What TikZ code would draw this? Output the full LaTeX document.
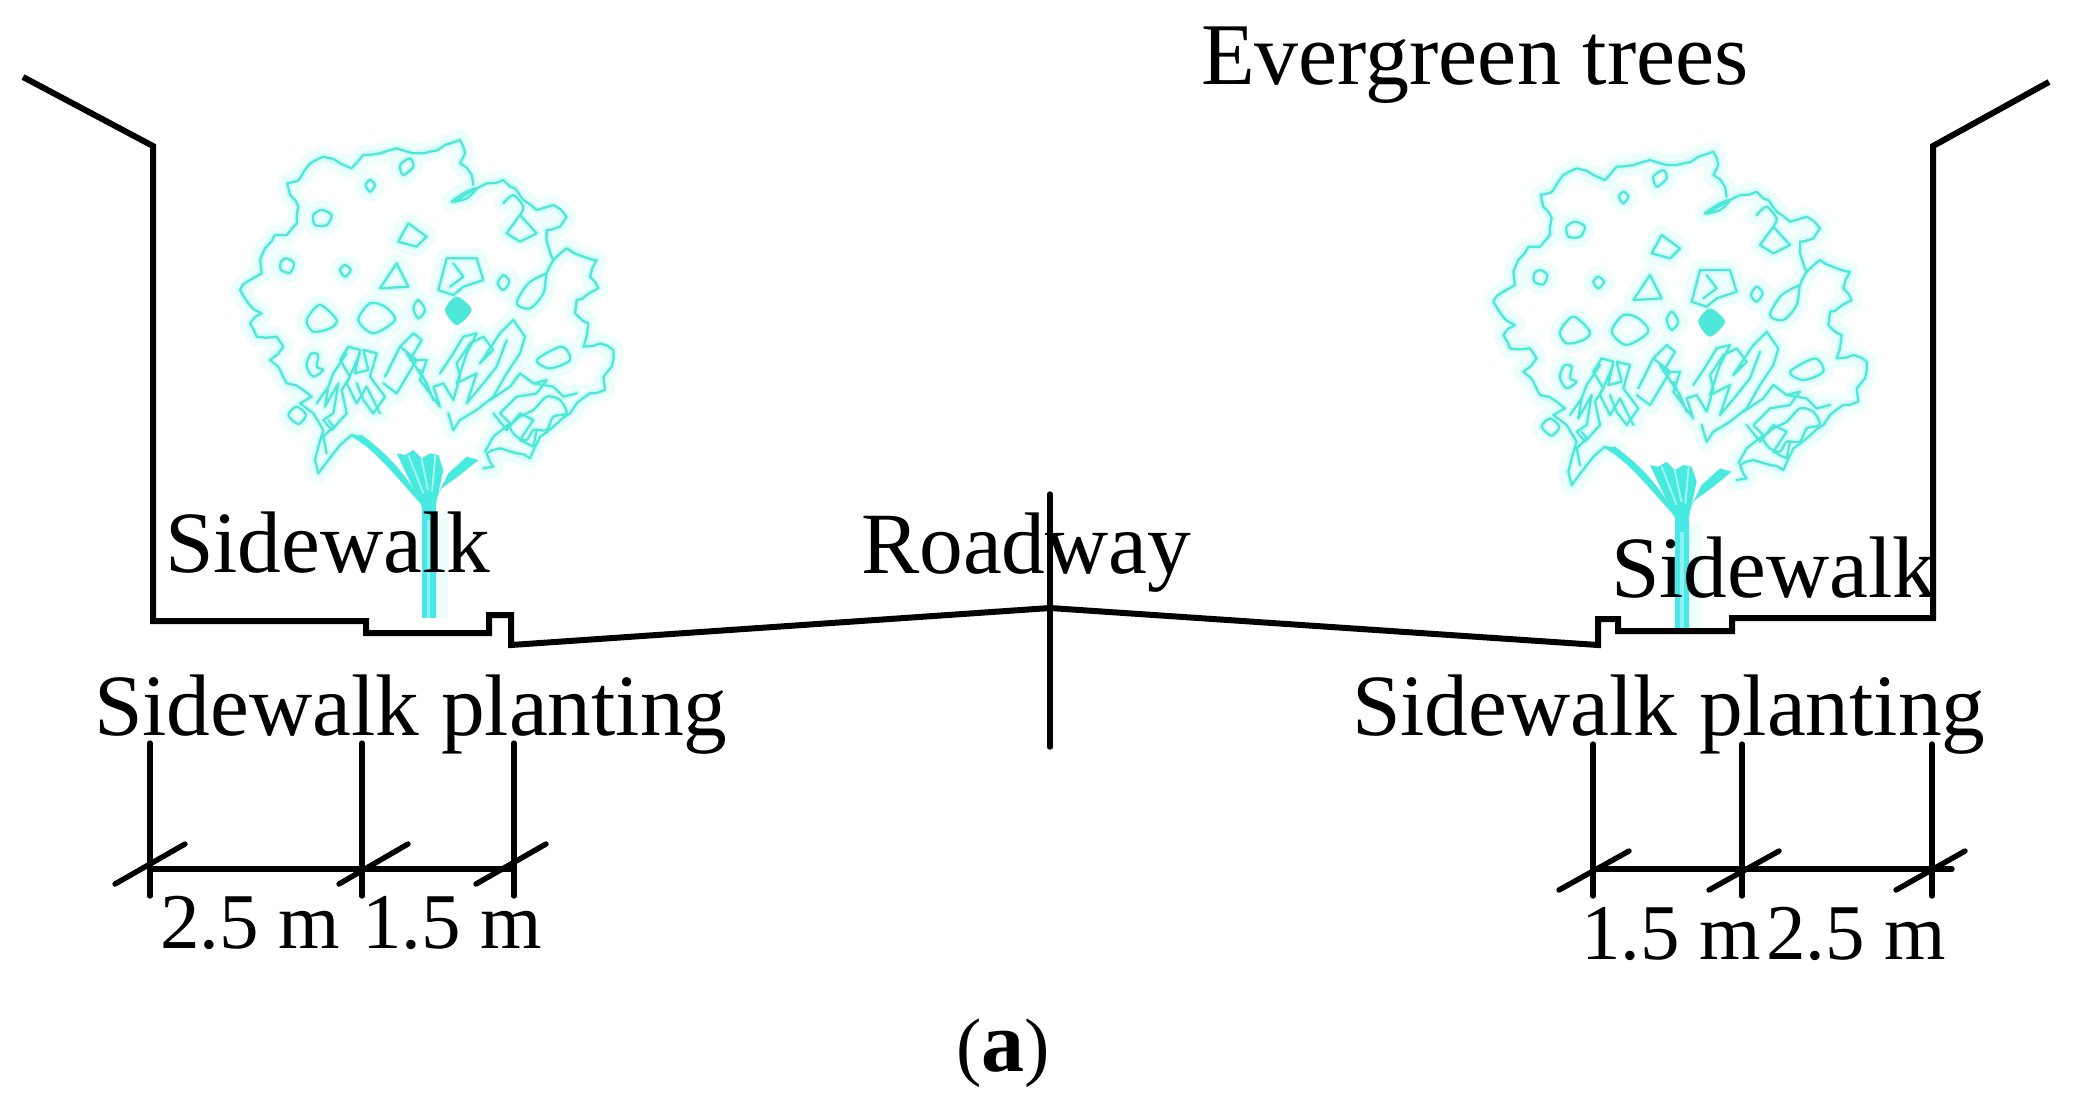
\documentclass[tikz,border=0pt]{standalone}
\usepackage{fontspec}
\usetikzlibrary{decorations.pathmorphing}
\setmainfont{Liberation Serif}
\definecolor{treecol}{RGB}{78,232,218}
\definecolor{trunkcol}{RGB}{70,232,232}
\definecolor{glowcol}{RGB}{238,254,252}
\definecolor{glowtwo}{RGB}{214,250,246}
\newcommand{\outlineA}{(262,190)--(300,175)--(330,130)--(370,110)--(420,130)--(455,145)--(490,105)--(540,100)--(590,85)--(640,100)--(690,95)--(735,75)--(780,60)--(795,100)--(780,130)--(815,165)--(820,195)}
\newcommand{\outlineB}{(765,245)--(795,225)--(830,205)--(860,190)--(910,180)--(945,205)--(970,240)--(1010,270)--(1060,255)--(1100,290)--(1080,320)--(1040,330)--(1045,380)--(1060,420)--(1100,385)--(1150,410)--(1190,420)--(1170,470)--(1195,505)--(1130,540)--(1125,580)--(1165,610)--(1160,650)--(1150,680)--(1200,670)--(1240,690)--(1235,740)--(1210,770)--(1215,810)--(1170,820)--(1130,850)--(1110,880)--(1060,920)--(1020,950)--(990,1015)--(950,1000)--(900,985)--(860,1000)--(880,1040)--(850,1045)}
\newcommand{\outlineC}{(262,190)--(270,225)--(295,260)--(290,310)--(260,345)--(225,345)--(195,385)--(180,420)--(185,460)--(150,480)--(120,510)--(145,550)--(185,580)--(150,610)--(170,650)--(230,650)--(250,680)--(210,720)--(240,750)--(260,790)--(310,810)--(335,830)--(300,850)}
\newcommand{\crownpaths}{
 plot[smooth cycle] coordinates {(365,270)(395,285)(380,315)(345,315)(340,285)}
 plot[smooth cycle] coordinates {(510,180)(525,195)(510,215)(497,195)}
 plot[smooth cycle] coordinates {(630,115)(640,140)(610,165)(600,135)}
 plot coordinates {(625,310)(595,365)(650,380)(680,350)(625,310)}
 plot[smooth cycle] coordinates {(260,415)(282,430)(270,458)(243,450)(243,425)}
 plot[smooth cycle] coordinates {(435,435)(452,450)(435,470)(420,450)}
 plot coordinates {(590,430)(540,505)(625,500)(590,430)}
 plot[smooth cycle] coordinates {(360,555)(320,600)(340,635)(390,625)(410,600)}
 plot[smooth cycle] coordinates {(510,550)(475,600)(520,640)(585,600)(555,560)}
 plot[smooth cycle] coordinates {(655,540)(675,570)(655,595)(640,565)}
 plot coordinates {(740,415)(830,415)(850,480)(790,500)(760,525)(715,510)(740,415)}
 plot coordinates {(760,430)(790,470)(750,500)}
 plot[smooth cycle] coordinates {(910,465)(928,485)(910,510)(893,490)}
 plot[smooth] coordinates {(1060,420)(1040,460)(1030,520)(990,565)(950,550)(985,490)(1040,460)}
 plot coordinates {(960,285)(920,340)(960,365)(1010,340)(960,285)}
 plot[smooth] coordinates {(910,250)(940,225)(970,260)(960,285)}
 plot[smooth cycle] coordinates {(1085,680)(1010,720)(1050,745)(1110,720)}
 plot[smooth cycle] coordinates {(755,245)(800,215)(830,205)(800,235)}
 plot[smooth cycle] coordinates {(335,700)(355,705)(350,740)(370,750)(340,770)(320,740)(325,715)}
 plot[smooth cycle] coordinates {(290,860)(318,885)(295,912)(265,885)}
 plot coordinates {(350,850)(385,800)(375,860)(415,790)(400,880)(370,900)(395,930)(440,880)(425,810)(450,770)(420,720)(445,680)(480,690)(465,760)(505,750)(490,690)(530,700)(510,770)(555,830)(520,880)(490,840)(470,790)}
 plot coordinates {(440,700)(400,760)(385,800)}
 plot coordinates {(480,700)(440,790)(470,850)(500,800)(540,880)}
 plot coordinates {(600,680)(640,640)(665,660)(630,720)(680,720)(660,780)(720,860)(700,800)(730,790)(760,840)(780,770)(770,730)(810,670)(850,650)(880,690)(840,730)(900,640)(940,600)(975,650)(960,700)(920,760)(880,830)(830,870)(780,900)(760,930)(745,880)}
 plot coordinates {(550,790)(590,820)(620,770)(650,720)(600,680)(555,770)}
 plot coordinates {(620,700)(680,790)(700,840)(660,750)}
 plot coordinates {(800,700)(770,790)(830,760)(800,850)(850,790)(890,740)(920,660)}
 plot coordinates {(720,760)(760,700)(790,650)(830,640)(800,700)}
 plot coordinates {(870,840)(930,800)(960,760)(1000,790)(1040,780)(1010,820)(950,830)(900,880)(930,910)(880,950)(855,995)}
 plot coordinates {(880,880)(920,930)(960,880)(1000,900)(960,960)(1000,980)(1010,930)}
 plot coordinates {(1000,790)(1060,800)(1090,830)(1130,820)}
 plot[smooth cycle] coordinates {(1000,870)(1040,830)(1080,840)(1100,880)(1060,890)(1040,930)(1000,930)(980,960)(950,950)(930,920)(960,890)}
 plot coordinates {(300,850)(340,880)(370,930)(355,980)(345,1020)(355,1060)(385,1020)(420,975)(455,945)(490,955)}
 plot coordinates {(380,1000)(370,950)(400,920)(385,900)}
}
\newcommand{\drawtree}[2]{%
 \begin{scope}[shift={(#1,#2)},x=0.1666667pt,y=-0.1666667pt]
  \path[draw=glowcol,line width=10pt,line join=round,line cap=round] \outlineA \outlineB \outlineC \crownpaths;
  \path[draw=glowtwo,line width=3.4pt,line join=round,line cap=round] \outlineA \outlineB \outlineC \crownpaths;
  \fill[glowcol] (707,1180) rectangle (745,1495);
  \pgfmathsetseed{4711}
  \draw[crownline,bumpy] \outlineA;
  \draw[crownline,bumpy] \outlineB;
  \draw[crownline,bumpy] \outlineC;
  \path[crownline] \crownpaths;
  \fill[treecol] plot[smooth cycle] coordinates {(770,530)(815,570)(770,615)(735,570)};
  \fill[treecol!90!cyan] (670,1160) .. controls (620,1060) and (560,1000) .. (485,945) -- (455,950) .. controls (520,985) and (580,1060) .. (670,1160) -- cycle;
  \fill[treecol!90!cyan] (668,1165) -- (590,1000) -- (615,1005) -- (640,990) -- (665,1015) -- (690,1000) -- (715,1005) -- (730,1050) -- (705,1165) -- cycle;
  \fill[treecol!90!cyan] (700,1150) -- (745,1060) -- (800,1010) -- (835,1020) -- (780,1065) -- (725,1105) -- cycle;
  \draw[white,opacity=.55,line width=.9pt] (670,1120) -- (625,1005);
  \draw[white,opacity=.55,line width=.9pt] (684,1110) -- (664,1015);
  \draw[white,opacity=.55,line width=.9pt] (696,1115) -- (706,1005);
  \fill[trunkcol] (665,1150) rectangle (707,1495);
  \fill[trunkcol!60!white] (681,1200) rectangle (691,1495);
 \end{scope}}
\tikzset{
 x=0.5pt,y=-0.5pt,
 crownline/.style={draw=treecol,line width=1.15pt,line join=round,line cap=round},
 bumpy/.style={decorate,decoration={random steps,segment length=4.5pt,amplitude=.9pt}},
 road/.style={draw=black,line width=3pt,line join=miter},
 dimline/.style={draw=black,line width=2.7pt,line cap=round},
 label/.style={inner sep=0pt,outer sep=0pt,anchor=base west,font=\fontsize{43.7pt}{50pt}\selectfont},
 dimlabel/.style={inner sep=0pt,outer sep=0pt,anchor=base west,font=\fontsize{39.5pt}{46pt}\selectfont},
}
\begin{document}
\begin{tikzpicture}
\useasboundingbox (0,0) rectangle (2082,1104);
\fill[white] (0,0) rectangle (2082,1104);
\drawtree{200}{120}
\drawtree{1453.3}{131.7}
% ground profile
\draw[road] (23,77) -- (153,146) -- (153,621) -- (366,621) -- (366,633) -- (489,633) -- (489,615) -- (511,615) -- (511,645) -- (1050,608) -- (1598,645) -- (1598,619) -- (1618,619) -- (1618,631) -- (1732,631) -- (1732,618) -- (1933,618) -- (1933,146) -- (2049,82);
\draw[dimline] (1050,494) -- (1050,747);
% left dimensions
\coordinate (la) at (150,869); \coordinate (lc) at (514,869);
\draw[dimline] (150,743) -- (150,896);
\draw[dimline] (362,743) -- (362,896);
\draw[dimline] (514,743) -- (514,896);
\draw[dimline] (la) -- (lc);
\draw[dimline] (115,884) -- (185,844);
\draw[dimline] (339,884) -- (408,844);
\draw[dimline] (476,884) -- (546,844);
% right dimensions
\coordinate (ra) at (1593,869); \coordinate (rc) at (1952,869);
\draw[dimline] (1593,744) -- (1593,896);
\draw[dimline] (1742,744) -- (1742,896);
\draw[dimline] (1932,744) -- (1932,896);
\draw[dimline] (ra) -- (rc);
\draw[dimline] (1559,890) -- (1629,851);
\draw[dimline] (1709,890) -- (1779,851);
\draw[dimline] (1896,890) -- (1965,851);
% labels
\node[label,font=\fontsize{44pt}{50pt}\selectfont] (ever) at (1201,84) {Evergreen trees};
\node[label] (swl) at (165,572) {Sidewalk};
\node[label] (road) at (861,573) {Roadway};
\node[label] (swr) at (1611,597) {Sidewalk};
\node[label] (spl) at (94,735) {Sidewalk planting};
\node[label] (spr) at (1352,735) {Sidewalk planting};
\node[dimlabel] (d1) at (160,948) {2.5 m};
\node[dimlabel] (d2) at (362,948) {1.5 m};
\node[dimlabel] (d3) at (1581,959) {1.5 m};
\node[dimlabel] (d4) at (1766,959) {2.5 m};
\node[inner sep=0pt,anchor=base,font=\fontsize{38pt}{44pt}\selectfont] (cap) at (1003,1071) {({\fontsize{43pt}{44pt}\selectfont\bfseries a})};
\end{tikzpicture}
\end{document}
